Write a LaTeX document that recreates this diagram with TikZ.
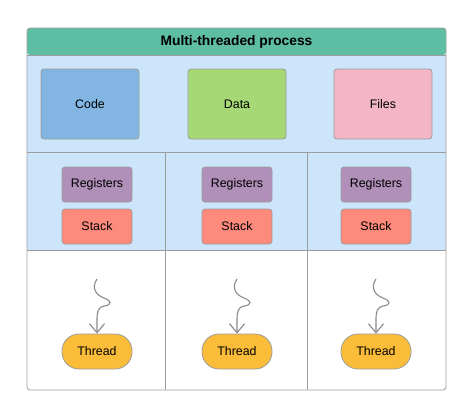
\documentclass[tikz,border=0pt]{standalone}
\usepackage{fontspec}
\setmainfont{Liberation Sans}
\usetikzlibrary{arrows.meta}
\definecolor{teal1}{HTML}{5DBEA3}
\definecolor{lblue}{HTML}{CCE5FB}
\definecolor{codec}{HTML}{82B5E1}
\definecolor{datac}{HTML}{A6D875}
\definecolor{filec}{HTML}{F4B5C7}
\definecolor{regc}{HTML}{B08FB9}
\definecolor{stackc}{HTML}{FD8A7B}
\definecolor{threadc}{HTML}{FBBD39}
\definecolor{edgec}{HTML}{9C9C9C}
\definecolor{arrc}{HTML}{8A8A8A}
\tikzset{
  box/.style={draw=edgec, line width=0.8pt, rounded corners=3pt, font=\fontsize{12.4}{14}\selectfont, inner sep=0pt},
  bigbox/.style={box, minimum width=98pt, minimum height=70pt},
  smallbox/.style={box, minimum width=70pt, minimum height=35pt},
  threadbox/.style={box, minimum width=70pt, minimum height=35pt, rounded corners=17pt, fill=threadc},
  frameline/.style={draw=edgec, line width=0.8pt},
  squig/.style={draw=arrc, line width=1.1pt, -{Straight Barb[length=9pt,width=15pt]}}
}
\begin{document}
\begin{tikzpicture}[x=1pt,y=-1pt]
\useasboundingbox (0,0) rectangle (474,418);
% regions
\fill[lblue] (27,55) rectangle (446,250);
\fill[white] (27,250) rectangle (446,390);
\fill[teal1, rounded corners=3pt] (27,55) -- (27,28) -- (446,28) -- (446,55) -- cycle;
\draw[frameline] (27,55) -- (446,55);
\draw[frameline] (27,152) -- (446,152);
\draw[frameline] (27,250) -- (446,250);
\draw[frameline] (165,152) -- (165,390);
\draw[frameline] (307,152) -- (307,390);
\draw[frameline, rounded corners=3pt] (27,28) rectangle (446,390);
\node[font=\fontsize{13.8}{16}\bfseries] (title) at (236.5,41.5) {Multi-threaded process};
% shared
\node[bigbox, fill=codec] (code) at (90,104) {Code};
\node[bigbox, fill=datac] (data) at (237,104) {Data};
\node[bigbox, fill=filec] (files) at (383,104) {Files};
% threads
\foreach \i/\x in {1/97,2/237,3/376}{
  \node[smallbox, fill=regc] (reg\i) at (\x,184.5) {Registers};
  \node[smallbox, fill=stackc] (stack\i) at (\x,226.5) {Stack};
  \node[threadbox] (thr\i) at (\x,351.5) {Thread};
  \coordinate (s\i) at (\x,279);
  \draw[squig] (s\i) .. controls (\x-6,288) and (\x-1,295) .. (\x+7,298)
     .. controls (\x+15,301) and (\x+15,305) .. (\x+7,306)
     .. controls (\x+1,307) and (\x,312) .. (\x,320) -- (thr\i.north);
}
\end{tikzpicture}
\end{document}
